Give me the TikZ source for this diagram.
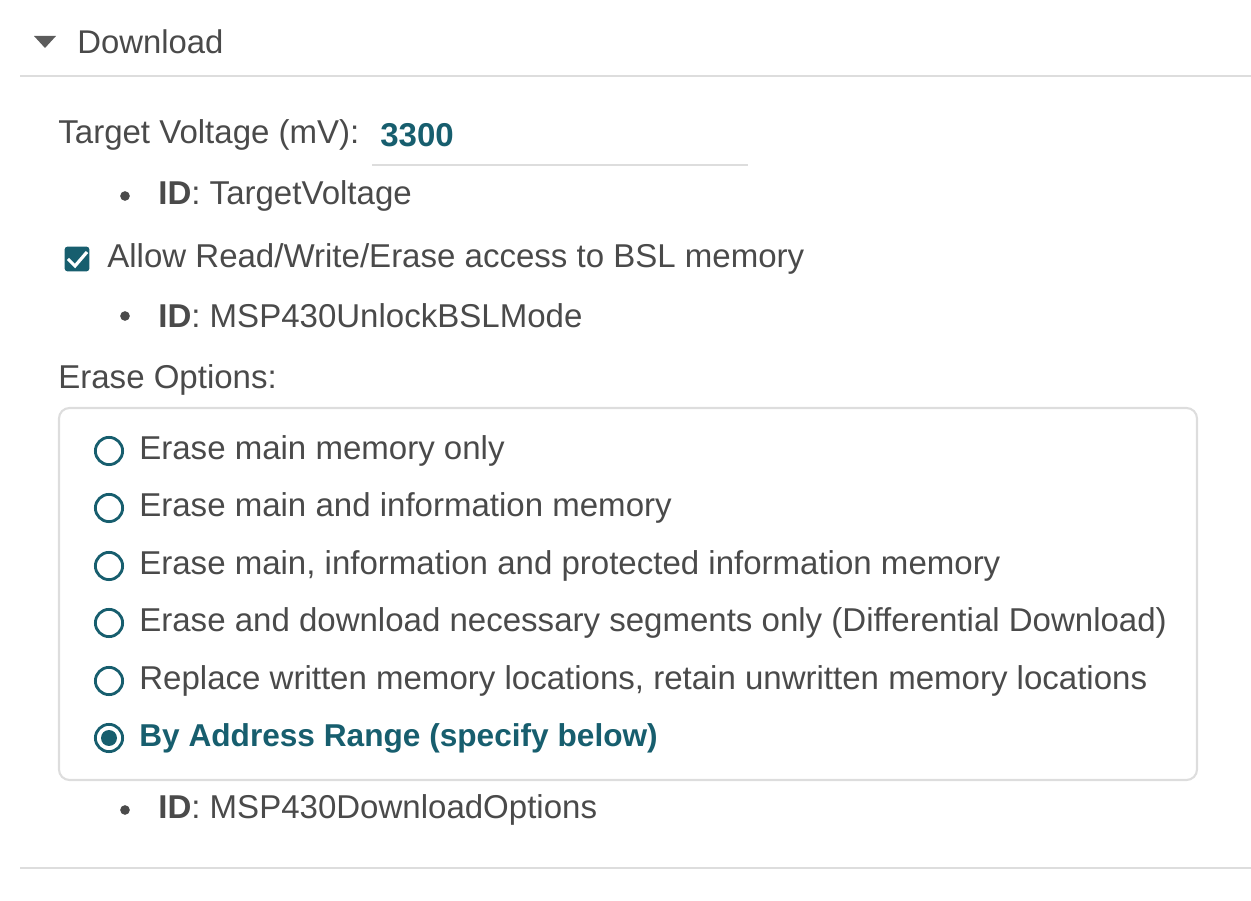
\documentclass[tikz,border=0pt]{standalone}
\usepackage{fontspec}
\setmainfont{Liberation Sans}
\usepackage{xcolor}
\definecolor{txt}{HTML}{4A4A4A}
\definecolor{teal}{HTML}{175E6E}
\definecolor{rule}{HTML}{DDDDDD}
\tikzset{lbl/.style={anchor=west,inner sep=0pt,text=txt,font=\fontsize{18.8}{22}\selectfont},
  radio/.style={circle,draw=teal,line width=1.6pt,minimum size=15.5pt,inner sep=0pt},
  dot/.style={circle,fill=txt,minimum size=5.5pt,inner sep=0pt}}
\begin{document}
\begin{tikzpicture}[x=0.02cm,y=-0.02cm]
  \useasboundingbox (0,0) rectangle (1251,901);
  % header
  \fill[txt!90] (34,36) -- (56,36) -- (45,48) -- cycle;
  \node[lbl,font=\fontsize{18.7}{22}\selectfont] (head) at (77,42) {Download};
  \draw[rule,line width=1.2pt] (20,76) -- (1251,76);
  % target voltage
  \node[lbl] (tv) at (58,135) {Target Voltage (mV):};
  \node[lbl,text=teal,font=\fontsize{18.8}{22}\selectfont\bfseries] (val) at (380,135) {3300};
  \draw[rule,line width=1.2pt] (372,165) -- (748,165);
  \node[dot] (b1) at (125,196) {};
  \node[lbl] (id1) at (158,196) {\textbf{ID}: TargetVoltage};
  % checkbox
  \node[fill=teal,rounded corners=1.5pt,minimum size=14pt,inner sep=0pt] (chk) at (77,259) {};
  \draw[white,line width=1.8pt] (68,259) -- (75,266) -- (87,252);
  \node[lbl] (bsl) at (107,259) {Allow Read/Write/Erase access to BSL memory};
  \node[dot] (b2) at (125,316) {};
  \node[lbl] (id2) at (158,316) {\textbf{ID}: MSP430UnlockBSLMode};
  % erase options
  \node[lbl] (eo) at (58,380) {Erase Options:};
  \draw[rule,line width=1.2pt,rounded corners=6pt] (59,408) rectangle (1197,780);
  \foreach \y/\t [count=\i] in {451/Erase main memory only,
      508/Erase main and information memory,
      566/{Erase main, information and protected information memory},
      623/Erase and download necessary segments only (Differential Download),
      681/{Replace written memory locations, retain unwritten memory locations}}{
    \node[radio] (r\i) at (109,\y) {};
    \node[lbl] (t\i) at (139,\y) {\t};
  }
  \node[radio] (r6) at (109,738) {};
  \fill[teal] (r6) circle (8);
  \node[lbl,text=teal,font=\fontsize{18}{22}\selectfont\bfseries] (t6) at (139,738) {By Address Range (specify below)};
  \node[dot] (b3) at (125,810) {};
  \node[lbl] (id3) at (158,810) {\textbf{ID}: MSP430DownloadOptions};
  \draw[rule,line width=1.2pt] (20,868) -- (1251,868);
\end{tikzpicture}
\end{document}
